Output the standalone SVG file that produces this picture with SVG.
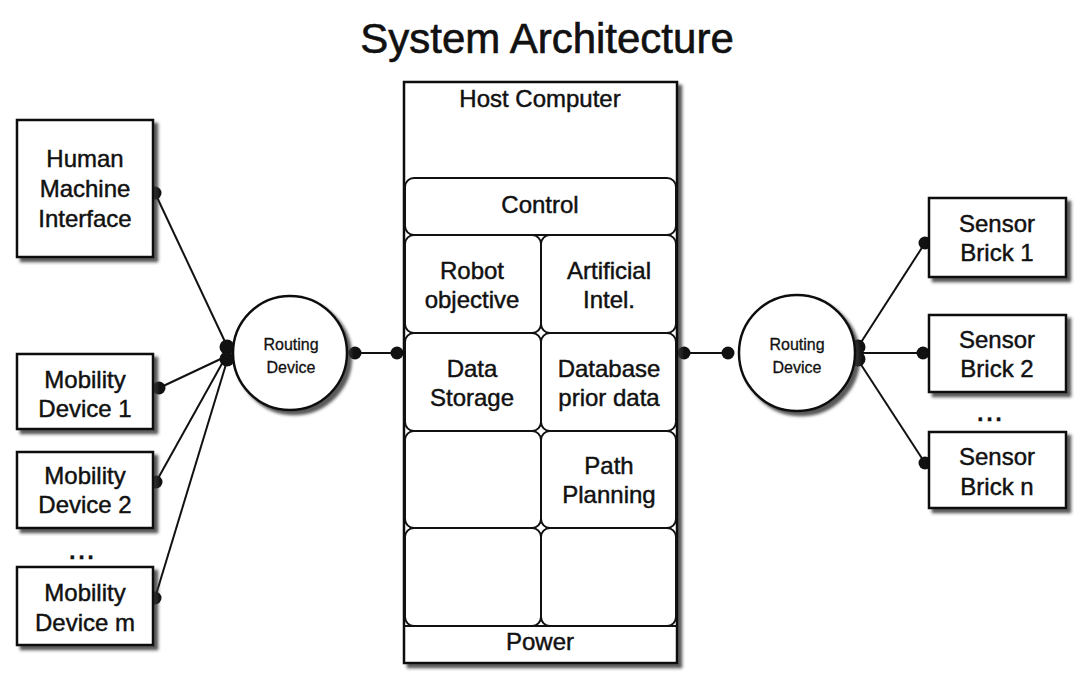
<svg xmlns="http://www.w3.org/2000/svg" width="1080" height="678" viewBox="0 0 1080 678">
<defs>
<filter id="sh" x="-10%" y="-10%" width="130%" height="130%">
<feDropShadow dx="4" dy="4" stdDeviation="1.5" flood-color="#333" flood-opacity="0.8"/>
</filter>
</defs>
<style>
text{font-family:"Liberation Sans",Arial,sans-serif;fill:#111;stroke:#111;stroke-width:0.45px;text-anchor:middle;dominant-baseline:central}
.t{font-size:24px}
.s{font-size:16px;stroke-width:0.3px}
.box{fill:#fff;stroke:#111;stroke-width:2.5}
.cell{fill:#fff;stroke:#111;stroke-width:2}
.ln{stroke:#111;stroke-width:2;fill:none}
.dot{fill:#111}
.el{font-size:22px;font-weight:bold;letter-spacing:3px}
</style>
<rect width="1080" height="678" fill="#fff"/>
<text x="547" y="38" style="font-size:42px;stroke-width:0.6px">System Architecture</text>

<g id="connectors">
<line class="ln" x1="155" y1="193" x2="227" y2="346"/>
<line class="ln" x1="159" y1="388" x2="227" y2="356"/>
<line class="ln" x1="156" y1="482" x2="224" y2="360"/>
<line class="ln" x1="155" y1="598" x2="227" y2="361"/>
<line class="ln" x1="355" y1="353" x2="397" y2="353"/>
<line class="ln" x1="683" y1="353" x2="728" y2="353"/>
<line class="ln" x1="858" y1="347" x2="925" y2="243"/>
<line class="ln" x1="858" y1="353" x2="923" y2="353"/>
<line class="ln" x1="858" y1="360" x2="925" y2="463"/>
<circle class="dot" cx="155" cy="193" r="6.5"/>
<circle class="dot" cx="159" cy="388" r="6.5"/>
<circle class="dot" cx="156" cy="482" r="6.5"/>
<circle class="dot" cx="155" cy="598" r="6.5"/>
<circle class="dot" cx="227" cy="347" r="7.5"/>
<circle class="dot" cx="227" cy="359" r="7.5"/>
<circle class="dot" cx="355" cy="353" r="6.5"/>
<circle class="dot" cx="397" cy="353" r="6.5"/>
<circle class="dot" cx="684" cy="353" r="6.5"/>
<circle class="dot" cx="728" cy="353" r="6.5"/>
<circle class="dot" cx="858" cy="347" r="7.5"/>
<circle class="dot" cx="858" cy="359" r="7.5"/>
<circle class="dot" cx="925" cy="243" r="6.5"/>
<circle class="dot" cx="923" cy="353" r="6.5"/>
<circle class="dot" cx="925" cy="463" r="6.5"/>
</g>

<g id="hmi">
<rect class="box" x="17" y="120" width="136" height="137" filter="url(#sh)"/>
<text class="t" x="85" y="158">Human</text>
<text class="t" x="85" y="188">Machine</text>
<text class="t" x="85" y="218">Interface</text>
</g>
<g id="mob1">
<rect class="box" x="17" y="354" width="136" height="75" filter="url(#sh)"/>
<text class="t" x="85" y="379">Mobility</text>
<text class="t" x="85" y="408">Device 1</text>
</g>
<g id="mob2">
<rect class="box" x="17" y="452" width="136" height="76" filter="url(#sh)"/>
<text class="t" x="85" y="475">Mobility</text>
<text class="t" x="85" y="504">Device 2</text>
</g>
<text class="el" x="83" y="551">...</text>
<g id="mobm">
<rect class="box" x="17" y="567" width="136" height="78" filter="url(#sh)"/>
<text class="t" x="85" y="592">Mobility</text>
<text class="t" x="85" y="622">Device m</text>
</g>

<g id="router-left">
<circle class="box" cx="290" cy="353" r="57" filter="url(#sh)"/>
<text class="s" x="291" y="344">Routing</text>
<text class="s" x="291" y="367">Device</text>
</g>

<g id="host">
<rect class="box" x="404" y="82" width="273" height="581" filter="url(#sh)"/>
<text class="t" x="540" y="98">Host Computer</text>
<rect class="cell" x="405" y="178" width="271" height="57" rx="9"/>
<text class="t" x="540" y="204">Control</text>
<rect class="cell" x="405" y="235" width="136" height="98" rx="9"/>
<rect class="cell" x="541" y="235" width="135" height="98" rx="9"/>
<rect class="cell" x="405" y="333" width="136" height="98" rx="9"/>
<rect class="cell" x="541" y="333" width="135" height="98" rx="9"/>
<rect class="cell" x="405" y="431" width="136" height="97" rx="9"/>
<rect class="cell" x="541" y="431" width="135" height="97" rx="9"/>
<rect class="cell" x="405" y="528" width="136" height="98" rx="9"/>
<rect class="cell" x="541" y="528" width="135" height="98" rx="9"/>
<line class="ln" x1="404" y1="626" x2="677" y2="626"/>
<text class="t" x="472" y="270">Robot</text>
<text class="t" x="472" y="299">objective</text>
<text class="t" x="609" y="270">Artificial</text>
<text class="t" x="609" y="299">Intel.</text>
<text class="t" x="472" y="368">Data</text>
<text class="t" x="472" y="397">Storage</text>
<text class="t" x="609" y="368">Database</text>
<text class="t" x="609" y="397">prior data</text>
<text class="t" x="609" y="465">Path</text>
<text class="t" x="609" y="494">Planning</text>
<text class="t" x="540" y="641">Power</text>
</g>

<g id="router-right">
<circle class="box" cx="797" cy="353" r="58" filter="url(#sh)"/>
<text class="s" x="797" y="344">Routing</text>
<text class="s" x="797" y="367">Device</text>
</g>

<g id="sensor1">
<rect class="box" x="929" y="198" width="137" height="79" filter="url(#sh)"/>
<text class="t" x="997" y="223">Sensor</text>
<text class="t" x="997" y="252">Brick 1</text>
</g>
<g id="sensor2">
<rect class="box" x="929" y="315" width="137" height="77" filter="url(#sh)"/>
<text class="t" x="997" y="339">Sensor</text>
<text class="t" x="997" y="368">Brick 2</text>
</g>
<text class="el" x="991" y="413">...</text>
<g id="sensorn">
<rect class="box" x="929" y="432" width="137" height="76" filter="url(#sh)"/>
<text class="t" x="997" y="456">Sensor</text>
<text class="t" x="997" y="486">Brick n</text>
</g>
</svg>
